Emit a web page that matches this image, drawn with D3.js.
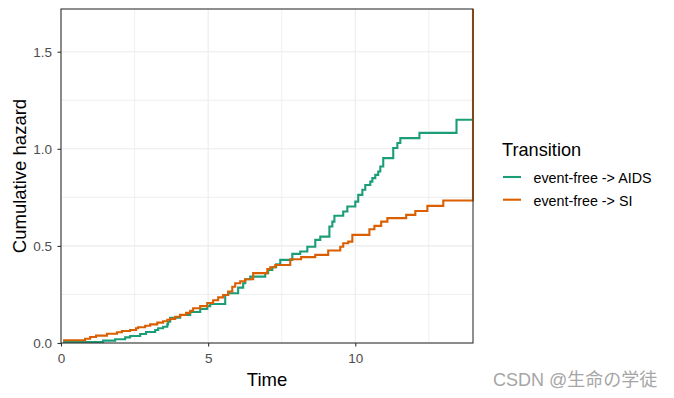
<!DOCTYPE html>
<html>
<head>
<meta charset="utf-8">
<script src="https://cdn.jsdelivr.net/npm/d3@7"></script>
<style>
body { margin: 0; background: #fff; }
svg text { font-family: "Liberation Sans", Arial, sans-serif; }
</style>
</head>
<body>
<svg width="674" height="398"></svg>
<script>
// transitions (legend order)
var transitions = ["event-free -> AIDS", "event-free -> SI"];
var colors = ["#1B9E77", "#D95F02"];

// step times / cumulative hazard
var aidsTime = [0.07, 1.43, 1.84, 2.18, 2.35, 2.69, 2.89, 3.20, 3.30, 3.47, 3.61, 3.64, 3.71, 4.05, 4.39, 4.73, 4.97, 5.07, 5.58, 5.68, 6.02, 6.19, 6.26, 6.43, 6.94, 7.04, 7.18, 7.31, 7.45, 7.86, 8.13, 8.37, 8.64, 8.81, 9.12, 9.22, 9.29, 9.59, 9.73, 10.0, 10.10, 10.24, 10.34, 10.51, 10.58, 10.68, 10.78, 10.85, 10.95, 11.29, 11.43, 11.53, 12.18, 13.44, 14.0];
var aidsHaz = [0.005, 0.012, 0.019, 0.029, 0.036, 0.046, 0.057, 0.067, 0.076, 0.084, 0.096, 0.11, 0.13, 0.144, 0.16, 0.175, 0.19, 0.201, 0.247, 0.256, 0.285, 0.308, 0.328, 0.342, 0.36, 0.376, 0.39, 0.405, 0.428, 0.459, 0.471, 0.496, 0.531, 0.548, 0.6, 0.625, 0.655, 0.677, 0.703, 0.728, 0.763, 0.789, 0.814, 0.831, 0.849, 0.866, 0.883, 0.909, 0.952, 1.004, 1.03, 1.055, 1.082, 1.15, 1.15];

var siTime = [0.07, 0.82, 0.99, 1.19, 1.56, 1.90, 2.07, 2.35, 2.55, 2.62, 2.86, 3.03, 3.27, 3.47, 3.61, 3.71, 3.88, 4.05, 4.25, 4.39, 4.49, 4.73, 4.97, 5.17, 5.34, 5.51, 5.68, 5.82, 5.92, 6.09, 6.26, 6.53, 7.01, 7.11, 7.28, 7.79, 8.16, 8.64, 9.08, 9.49, 9.59, 9.76, 9.90, 10.48, 10.65, 10.88, 11.09, 11.73, 12.04, 12.45, 12.99, 14.0];
var siHaz = [0.014, 0.022, 0.031, 0.038, 0.048, 0.055, 0.062, 0.067, 0.076, 0.081, 0.089, 0.096, 0.105, 0.112, 0.12, 0.124, 0.135, 0.145, 0.155, 0.166, 0.179, 0.19, 0.206, 0.22, 0.235, 0.247, 0.265, 0.29, 0.308, 0.318, 0.328, 0.36, 0.381, 0.39, 0.402, 0.431, 0.442, 0.454, 0.476, 0.496, 0.514, 0.522, 0.557, 0.586, 0.603, 0.625, 0.643, 0.66, 0.68, 0.706, 0.734, 2.5];

var xTicks = [0, 5, 10];
var yTicks = [0, 0.5, 1.0, 1.5];

var svg = d3.select("svg");
var pLeft = 61, pRight = 473, pTop = 9, pBottom = 343;

var x = d3.scaleLinear().domain([0, 14.0]).range([pLeft, pRight]);
var y = d3.scaleLinear().domain([0, 1.72]).range([pBottom, pTop]);

var series = [
  aidsTime.map(function(t, i) { return [t, aidsHaz[i]]; }),
  siTime.map(function(t, i) { return [t, siHaz[i]]; })
];

svg.append("clipPath").attr("id", "panel")
  .append("rect").attr("x", pLeft).attr("y", pTop)
  .attr("width", pRight - pLeft + 1).attr("height", pBottom - pTop);

// grid
var grid = svg.append("g");
grid.selectAll(".minx").data([2.5, 7.5, 12.5]).enter().append("line")
  .attr("x1", d => x(d)).attr("x2", d => x(d)).attr("y1", pTop).attr("y2", pBottom)
  .attr("stroke", "#EBEBEB").attr("stroke-width", 0.8);
grid.selectAll(".miny").data([0.25, 0.75, 1.25]).enter().append("line")
  .attr("y1", d => y(d)).attr("y2", d => y(d)).attr("x1", pLeft).attr("x2", pRight)
  .attr("stroke", "#EBEBEB").attr("stroke-width", 0.8);
grid.selectAll(".majx").data(xTicks).enter().append("line")
  .attr("x1", d => x(d)).attr("x2", d => x(d)).attr("y1", pTop).attr("y2", pBottom)
  .attr("stroke", "#EBEBEB").attr("stroke-width", 1.1);
grid.selectAll(".majy").data(yTicks).enter().append("line")
  .attr("y1", d => y(d)).attr("y2", d => y(d)).attr("x1", pLeft).attr("x2", pRight)
  .attr("stroke", "#EBEBEB").attr("stroke-width", 1.1);

// curves
var line = d3.line().x(d => x(d[0])).y(d => y(d[1])).curve(d3.curveStepAfter);
svg.append("g").attr("clip-path", "url(#panel)")
  .selectAll("path").data(series).enter().append("path")
  .attr("d", line)
  .attr("fill", "none")
  .attr("stroke", (d, i) => colors[i])
  .attr("stroke-width", 2.1);

// panel border
svg.append("rect").attr("x", pLeft).attr("y", pTop)
  .attr("width", pRight - pLeft).attr("height", pBottom - pTop)
  .attr("fill", "none").attr("stroke", "#333333").attr("stroke-width", 1.1);

// axes
var xAxis = svg.append("g").attr("transform", "translate(0," + pBottom + ")")
  .call(d3.axisBottom(x).tickValues(xTicks).tickSize(3.5).tickPadding(6.5).tickFormat(d3.format("d")));
var yAxis = svg.append("g").attr("transform", "translate(" + pLeft + ",0)")
  .call(d3.axisLeft(y).tickValues(yTicks).tickSize(3.5).tickPadding(5.5).tickFormat(d3.format(".1f")));
[xAxis, yAxis].forEach(function(a) {
  a.select(".domain").remove();
  a.selectAll(".tick line").attr("stroke", "#333333").attr("stroke-width", 1.1);
  a.selectAll(".tick text").attr("fill", "#4D4D4D").style("font-size", "13.5px")
    .style("font-family", "'Liberation Sans', Arial, sans-serif");
});

svg.append("text").attr("x", (pLeft + pRight) / 2).attr("y", 386)
  .attr("text-anchor", "middle").style("font-size", "18.5px").text("Time");
svg.append("text").attr("transform", "translate(25.5," + ((pTop + pBottom) / 2) + ") rotate(-90)")
  .attr("text-anchor", "middle").style("font-size", "18.5px").text("Cumulative hazard");

// legend
var lg = svg.append("g").attr("transform", "translate(502,0)");
lg.append("text").attr("x", 0).attr("y", 156).style("font-size", "18.2px").text("Transition");
var items = lg.selectAll(".item").data(transitions).enter().append("g")
  .attr("transform", (d, i) => "translate(0," + (177 + i * 22.7) + ")");
items.append("line").attr("x1", 1).attr("x2", 19).attr("y1", 0).attr("y2", 0)
  .attr("stroke", (d, i) => colors[i]).attr("stroke-width", 2.1);
items.append("text").attr("x", 31.5).attr("y", 6.3)
  .style("font-size", "14.3px").text(d => d);

// watermark
svg.append("text").attr("x", 493).attr("y", 386)
  .style("font-family", "'Liberation Sans', 'Noto Sans CJK SC', sans-serif")
  .style("font-size", "18px").attr("fill", "#A6A6A6").text("CSDN @生命の学徒");
</script>
</body>
</html>
